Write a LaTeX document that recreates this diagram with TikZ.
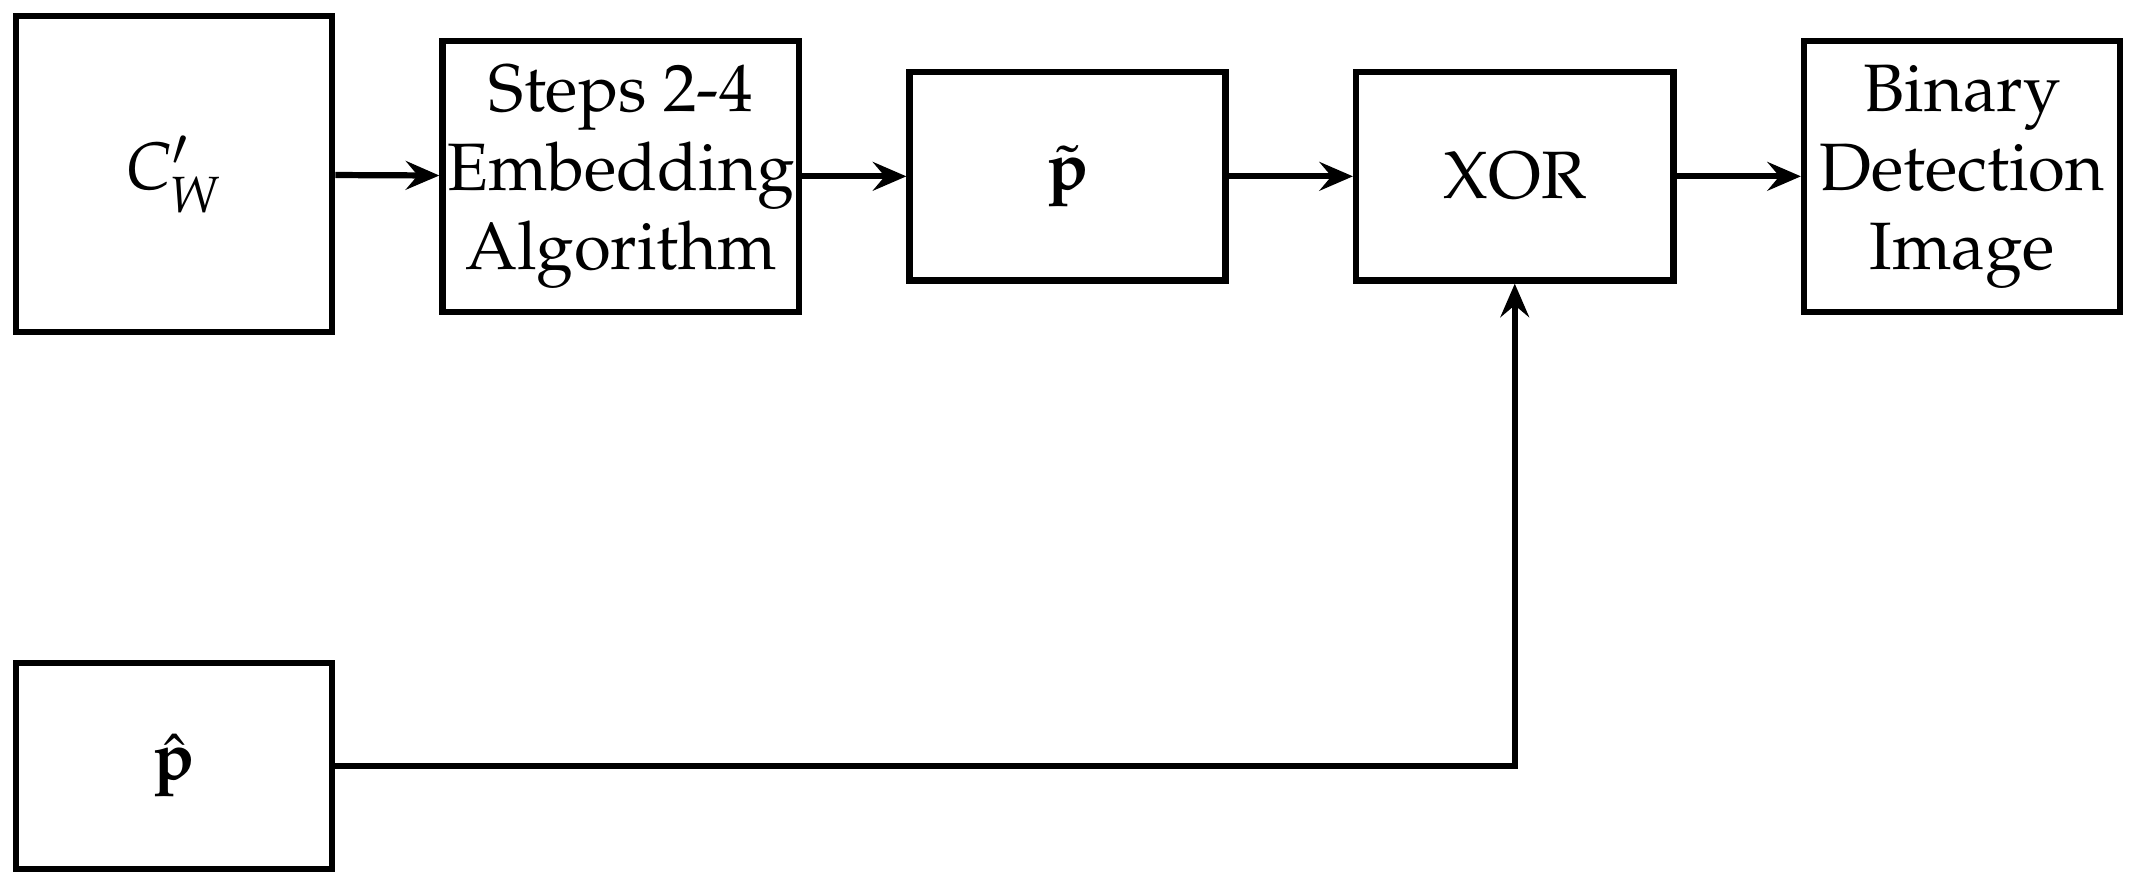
\documentclass[tikz,border=0pt]{standalone}
\usepackage[T1]{fontenc}
\usepackage{mathpazo}
\usetikzlibrary{arrows.meta}
\begin{document}
\begin{tikzpicture}[x=0.01cm,y=-0.01cm,
  box/.style={draw,line width=1.3pt,align=center,inner sep=0pt,font=\fontsize{14}{16.5}\selectfont},
  arr/.style={line width=1.3pt,-{Stealth[length=7pt,width=6pt,inset=2.5pt]}}]
\useasboundingbox (0,0) rectangle (1568,657);
\node[box,minimum width=2.32cm,minimum height=2.32cm] (cw) at (128,128) {$C'_W$};
\node[box,minimum width=2.62cm,minimum height=1.99cm] (emb) at (456,129.5) {Steps 2-4\\Embedding\\Algorithm};
\node[box,minimum width=2.32cm,minimum height=1.53cm] (pt) at (784,129.5) {$\tilde{\mathbf{p}}$};
\node[box,minimum width=2.33cm,minimum height=1.53cm] (xor) at (1112.5,129.5) {XOR};
\node[box,minimum width=2.32cm,minimum height=1.99cm] (bin) at (1441,129.5) {Binary\\Detection\\Image};
\node[box,minimum width=2.32cm,minimum height=1.51cm] (ph) at (128,562.5) {$\hat{\mathbf{p}}$};
\draw[arr] (cw) -- (emb);
\draw[arr] (emb) -- (pt);
\draw[arr] (pt) -- (xor);
\draw[arr] (xor) -- (bin);
\draw[arr] (ph.east) -| (xor.south);
\end{tikzpicture}
\end{document}
